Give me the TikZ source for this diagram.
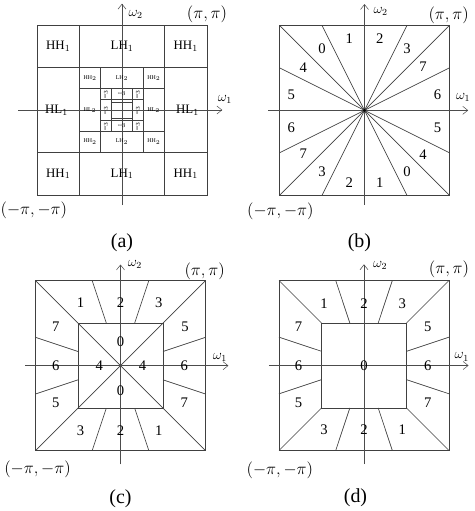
\documentclass[tikz,border=0pt]{standalone}
\usepackage{fontspec}
\setmainfont{Liberation Serif}
\usetikzlibrary{arrows.meta,positioning}

\begin{document}
\begin{tikzpicture}[
    gridline/.style={draw=black!75, line width=0.55pt},
    axisline/.style={draw=black!70, line width=0.45pt, -{Straight Barb[length=1.5mm,width=2.4mm]}},
    num/.style={font=\fontsize{12.5}{14}\selectfont, inner sep=0pt},
    bandone/.style={font=\fontsize{11}{13}\selectfont, inner sep=0pt},
    bandtwo/.style={font=\fontsize{5}{6}\selectfont, inner sep=0pt},
    bandthree/.style={font=\fontsize{2.4}{3}\selectfont, inner sep=0pt},
    axlabel/.style={font=\fontsize{11.5}{13}\selectfont, inner sep=0pt},
    cornerlabel/.style={font=\fontsize{13.5}{15}\selectfont, inner sep=0pt},
    caption/.style={font=\fontsize{17}{19}\selectfont, inner sep=0pt},
]
\useasboundingbox (0,0) rectangle (14.22,15.33);

% (a) dyadic subbands
\begin{scope}[shift={(3.66,12.03)}, x=2.55cm, y=2.55cm]
    \foreach \s in {1,0.5,0.25} {
        \draw[gridline] (-\s,-\s) rectangle (\s,\s);
        \foreach \f in {-0.5,0.5} {
            \draw[gridline] (\f*\s,-\s) -- (\f*\s,\s);
            \draw[gridline] (-\s,\f*\s) -- (\s,\f*\s);
        }
    }
    \draw[gridline] (-0.125,0.095) -- (0.125,0.095);
    \draw[gridline] (-0.125,-0.095) -- (0.125,-0.095);
    \draw[axisline] (-1.22,0) -- (1.18,0);
    \draw[axisline] (0,-1.12) -- (0,1.25);
    % level 1
    \node[bandone] (hh1a) at (-0.75,0.75) {HH$_1$};
    \node[bandone] (lh1a) at (0,0.75) {LH$_1$};
    \node[bandone] (hh1b) at (0.75,0.75) {HH$_1$};
    \node[bandone] (hl1a) at (-0.77,0) {HL$_1$};
    \node[bandone] (hl1b) at (0.77,0) {HL$_1$};
    \node[bandone] (hh1c) at (-0.75,-0.75) {HH$_1$};
    \node[bandone] (lh1b) at (0,-0.75) {LH$_1$};
    \node[bandone] (hh1d) at (0.75,-0.75) {HH$_1$};
    % level 2
    \node[bandtwo] (hh2a) at (-0.375,0.375) {HH$_2$};
    \node[bandtwo] (lh2a) at (0,0.375) {LH$_2$};
    \node[bandtwo] (hh2b) at (0.375,0.375) {HH$_2$};
    \node[bandtwo] (hl2a) at (-0.375,0) {HL$_2$};
    \node[bandtwo] (hl2b) at (0.375,0) {HL$_2$};
    \node[bandtwo] (hh2c) at (-0.375,-0.375) {HH$_2$};
    \node[bandtwo] (lh2b) at (0,-0.375) {LH$_2$};
    \node[bandtwo] (hh2d) at (0.375,-0.375) {HH$_2$};
    % level 3
    \node[bandthree, rotate=90] (hh3a) at (-0.1875,0.1875) {HH$_3$};
    \node[bandthree] (lh3a) at (0,0.1875) {LH$_3$};
    \node[bandthree, rotate=90] (hh3b) at (0.1875,0.1875) {HH$_3$};
    \node[bandthree, rotate=90] (hl3a) at (-0.1875,0) {HL$_3$};
    \node[bandthree, rotate=90] (hl3b) at (0.1875,0) {HL$_3$};
    \node[bandthree, rotate=90] (hh3c) at (-0.1875,-0.1875) {HH$_3$};
    \node[bandthree] (lh3b) at (0,-0.1875) {LH$_3$};
    \node[bandthree, rotate=90] (hh3d) at (0.1875,-0.1875) {HH$_3$};
    % labels
    \node[axlabel] (w2a) at (0.16,1.12) {$\omega_2$};
    \node[axlabel] (w1a) at (1.21,0.12) {$\omega_1$};
    \node[cornerlabel] (ppa) at (1.0,1.13) {$(\pi, \pi)$};
    \node[cornerlabel, anchor=west] (mma) at (-1.43,-1.18) {$(-\pi, -\pi)$};
    \node[caption] (capa) at (0,-1.56) {(a)};
\end{scope}

% (b) sixteen wedges
\begin{scope}[shift={(10.935,12.02)}, x=2.55cm, y=2.55cm]
    \draw[gridline] (-1,-1) rectangle (1,1);
    \foreach \x/\y in {1/1, -1/1, 0.5/1, -0.5/1, 1/0.5, -1/0.5}
        \draw[gridline] (\x,\y) -- (-\x,-\y);
    \draw[axisline] (-1.13,0) -- (1.22,0);
    \draw[axisline] (0,-1.11) -- (0,1.25);
    \fill[black] (0,0) circle (1.3pt);
    \foreach \x/\y/\n [count=\i] in {-0.5/0.72/0, -0.18/0.84/1, 0.18/0.84/2, 0.5/0.72/3,
        0.69/0.51/7, 0.86/0.18/6, 0.86/-0.2/5, 0.69/-0.52/4,
        0.5/-0.72/0, 0.18/-0.85/1, -0.18/-0.85/2, -0.5/-0.72/3,
        -0.72/-0.51/7, -0.86/-0.2/6, -0.86/0.18/5, -0.72/0.5/4}
        \node[num] (wb\i) at (\x,\y) {\n};
    \node[axlabel] (w2b) at (0.19,1.16) {$\omega_2$};
    \node[axlabel] (w1b) at (1.16,0.15) {$\omega_1$};
    \node[cornerlabel] (ppb) at (0.99,1.12) {$(\pi, \pi)$};
    \node[cornerlabel] (mmb) at (-0.99,-1.19) {$(-\pi, -\pi)$};
    \node[caption] (capb) at (-0.06,-1.56) {(b)};
\end{scope}

% (c) ring with full diagonals
\begin{scope}[shift={(3.615,4.36)}, x=2.55cm, y=2.55cm]
    \draw[gridline] (-1,-1) rectangle (1,1);
    \draw[gridline] (-0.5,-0.5) rectangle (0.5,0.5);
    \draw[gridline] (-1,-1) -- (1,1);
    \draw[gridline] (-1,1) -- (1,-1);
    \foreach \sx in {-1,1} \foreach \sy in {-1,1} {
        \draw[gridline] (\sx*0.1667,\sy*0.5) -- (\sx*0.3333,\sy);
        \draw[gridline] (\sx*0.5,\sy*0.1667) -- (\sx,\sy*0.3333);
    }
    \draw[axisline] (-1.12,0) -- (1.27,0);
    \draw[axisline] (0,-1.16) -- (0,1.19);
    \foreach \x/\y/\n [count=\i] in {-0.47/0.74/1, 0/0.74/2, 0.45/0.74/3,
        0.76/0.46/5, 0.75/0/6, 0.75/-0.44/7,
        0.45/-0.76/1, 0/-0.76/2, -0.47/-0.76/3,
        -0.76/-0.44/5, -0.76/0/6, -0.76/0.46/7,
        0/0.28/0, 0.26/0/4, 0/-0.29/0, -0.25/0/4}
        \node[num] (wc\i) at (\x,\y) {\n};
    \node[axlabel] (w2c) at (0.17,1.19) {$\omega_2$};
    \node[axlabel] (w1c) at (1.17,0.1) {$\omega_1$};
    \node[cornerlabel] (ppc) at (0.99,1.11) {$(\pi, \pi)$};
    \node[cornerlabel, anchor=west] (mmc) at (-1.37,-1.22) {$(-\pi, -\pi)$};
    \node[caption] (capc) at (0,-1.56) {(c)};
\end{scope}

% (d) ring around a low-pass square
\begin{scope}[shift={(10.92,4.365)}, x=2.55cm, y=2.55cm]
    \draw[gridline] (-1,-1) rectangle (1,1);
    \draw[gridline] (-0.5,-0.5) rectangle (0.5,0.5);
    \foreach \sx in {-1,1} \foreach \sy in {-1,1} {
        \draw[gridline] (\sx*0.5,\sy*0.5) -- (\sx,\sy);
        \draw[gridline] (\sx*0.1667,\sy*0.5) -- (\sx*0.3333,\sy);
        \draw[gridline] (\sx*0.5,\sy*0.1667) -- (\sx,\sy*0.3333);
    }
    \draw[axisline] (-1.12,0) -- (1.23,0);
    \draw[axisline] (0,-1.16) -- (0,1.19);
    \foreach \x/\y/\n [count=\i] in {-0.47/0.73/1, 0/0.73/2, 0.45/0.73/3,
        0.75/0.46/5, 0.75/0/6, 0.75/-0.44/7,
        0.45/-0.76/1, 0/-0.76/2, -0.47/-0.76/3,
        -0.77/-0.44/5, -0.77/0/6, -0.77/0.46/7,
        0/0/0}
        \node[num] (wd\i) at (\x,\y) {\n};
    \node[axlabel] (w2d) at (0.19,1.18) {$\omega_2$};
    \node[axlabel] (w1d) at (1.15,0.1) {$\omega_1$};
    \node[cornerlabel] (ppd) at (1.0,1.13) {$(\pi, \pi)$};
    \node[cornerlabel] (mmd) at (-0.99,-1.23) {$(-\pi, -\pi)$};
    \node[caption] (capd) at (-0.1,-1.56) {(d)};
\end{scope}
\end{tikzpicture}
\end{document}
